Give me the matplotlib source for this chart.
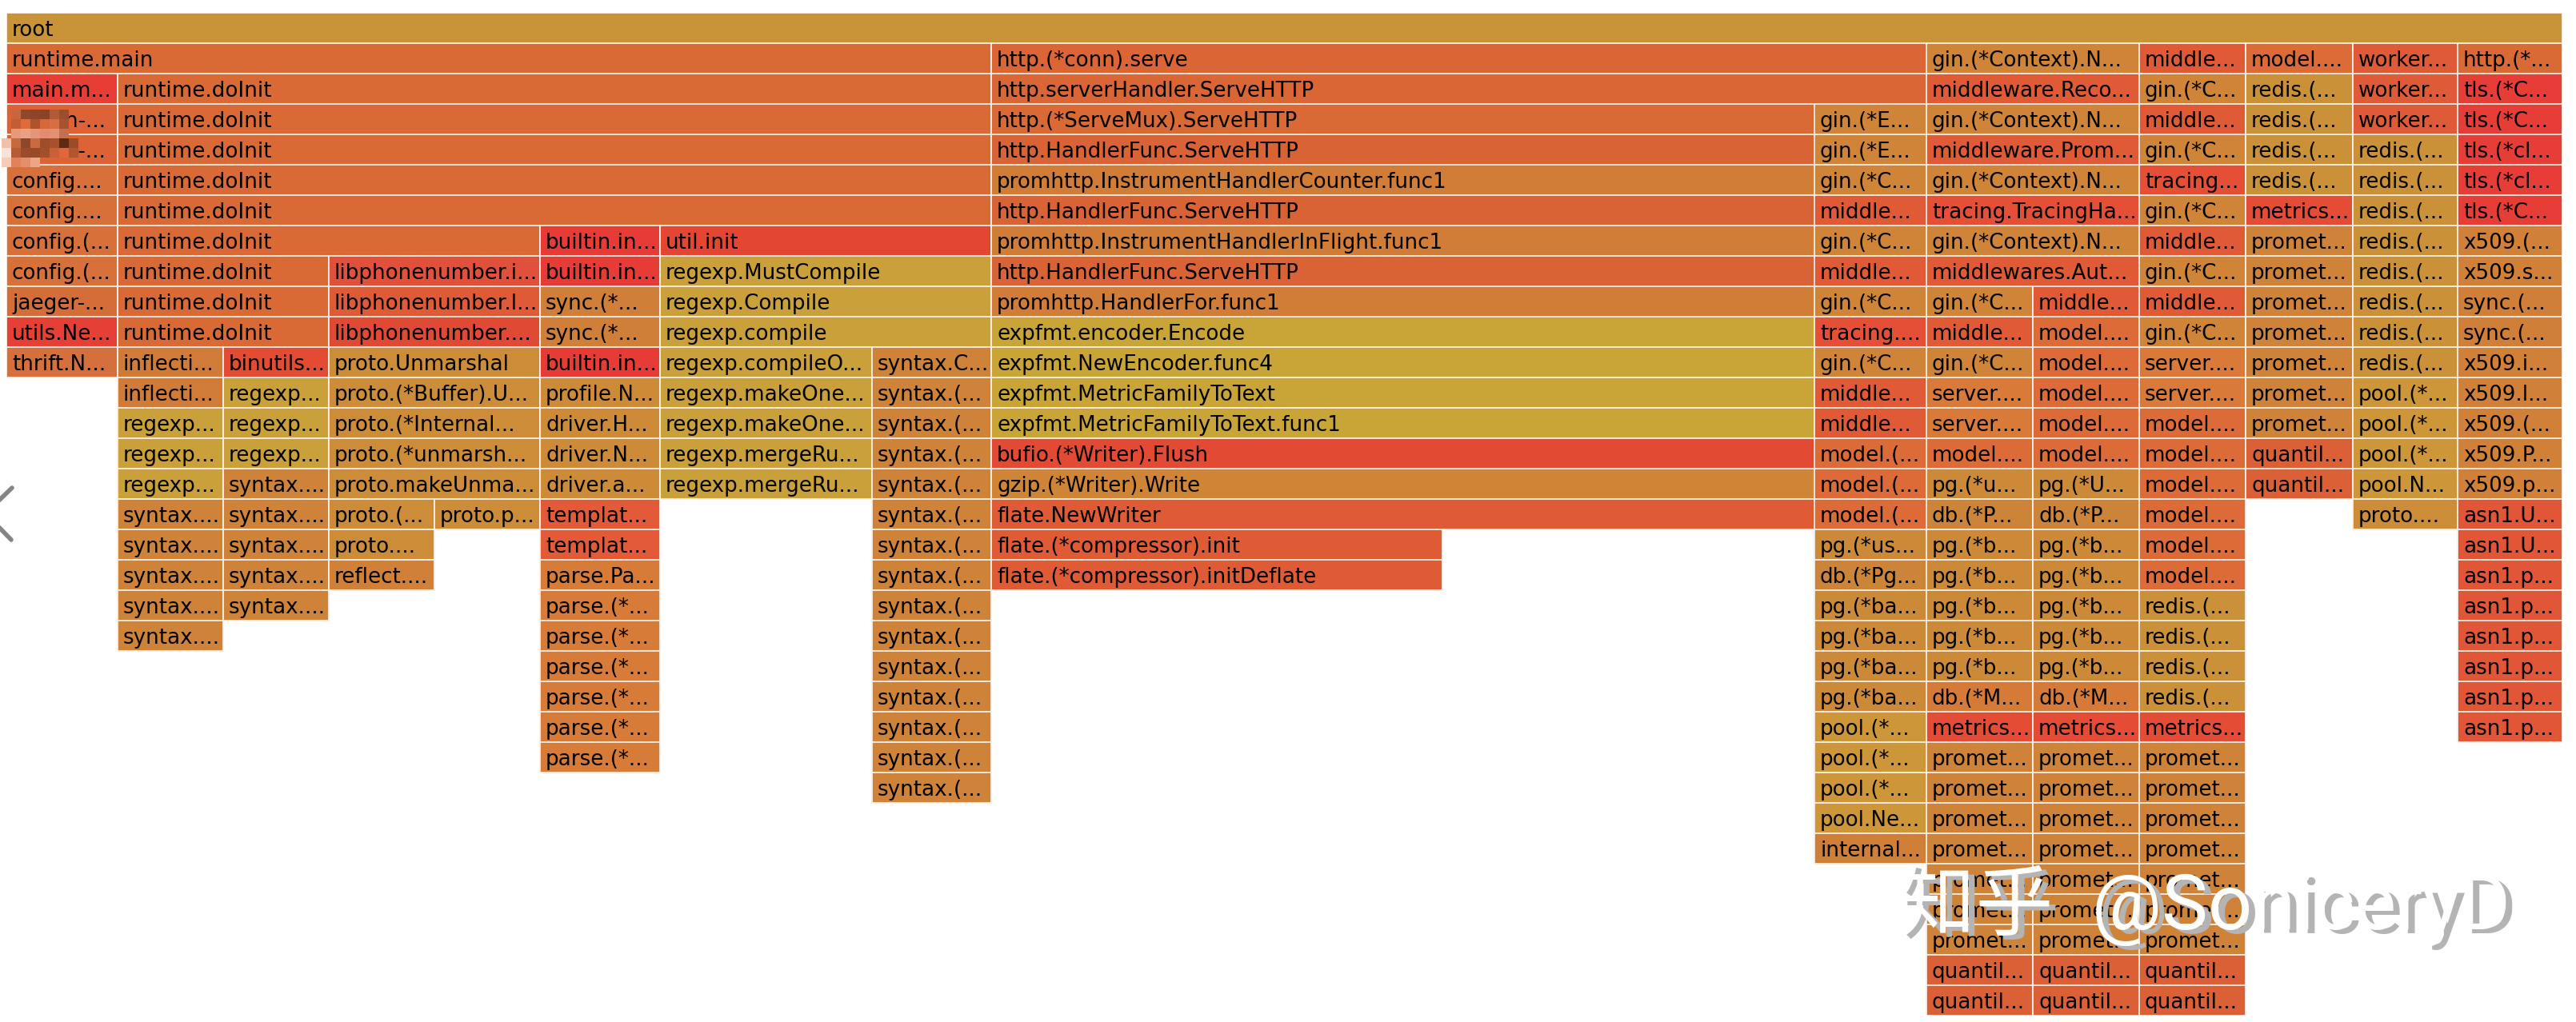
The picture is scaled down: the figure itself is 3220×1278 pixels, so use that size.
import matplotlib
matplotlib.use('Agg')
import matplotlib.pyplot as plt
from matplotlib.lines import Line2D
from matplotlib.patches import Rectangle

# each depth of the flame graph: frame names and their samples, '' is a gap
d0_names = ['root']
d0_samples = [3195]
d1_names = ['runtime.main', 'http.(*conn).serve', 'gin.(*Context).N...', 'middle...', 'model....', 'worker...', 'http.(*...']
d1_samples = [1231, 1169, 266, 133, 134, 131, 131]
d2_names = ['main.m...', 'runtime.doInit', 'http.serverHandler.ServeHTTP', 'middleware.Reco...', 'gin.(*C...', 'redis.(...', 'worker...', 'tls.(*C...']
d2_samples = [139, 1092, 1169, 266, 133, 134, 131, 131]
d3_names = ['        n-...', 'runtime.doInit', 'http.(*ServeMux).ServeHTTP', 'gin.(*E...', 'gin.(*Context).N...', 'middle...', 'redis.(...', 'worker...', 'tls.(*C...']
d3_samples = [139, 1092, 1029, 140, 266, 133, 134, 131, 131]
d4_names = ['          -...', 'runtime.doInit', 'http.HandlerFunc.ServeHTTP', 'gin.(*E...', 'middleware.Prom...', 'gin.(*C...', 'redis.(...', 'redis.(...', 'tls.(*cl...']
d4_samples = [139, 1092, 1029, 140, 266, 133, 134, 131, 131]
d5_names = ['config....', 'runtime.doInit', 'promhttp.InstrumentHandlerCounter.func1', 'gin.(*C...', 'gin.(*Context).N...', 'tracing...', 'redis.(...', 'redis.(...', 'tls.(*cl...']
d5_samples = [139, 1092, 1029, 140, 266, 133, 134, 131, 131]
d6_names = ['config....', 'runtime.doInit', 'http.HandlerFunc.ServeHTTP', 'middle...', 'tracing.TracingHa...', 'gin.(*C...', 'metrics...', 'redis.(...', 'tls.(*C...']
d6_samples = [139, 1092, 1029, 140, 266, 133, 134, 131, 131]
d7_names = ['config.(...', 'runtime.doInit', 'builtin.in...', 'util.init', 'promhttp.InstrumentHandlerInFlight.func1', 'gin.(*C...', 'gin.(*Context).N...', 'middle...', 'promet...', 'redis.(...', 'x509.(...']
d7_samples = [139, 528, 150, 414, 1029, 140, 266, 133, 134, 131, 131]
d8_names = ['config.(...', 'runtime.doInit', 'libphonenumber.i...', 'builtin.in...', 'regexp.MustCompile', 'http.HandlerFunc.ServeHTTP', 'middle...', 'middlewares.Aut...', 'gin.(*C...', 'promet...', 'redis.(...', 'x509.s...']
d8_samples = [139, 264, 264, 150, 414, 1029, 140, 266, 133, 134, 131, 131]
d9_names = ['jaeger-...', 'runtime.doInit', 'libphonenumber.l...', 'sync.(*...', 'regexp.Compile', 'promhttp.HandlerFor.func1', 'gin.(*C...', 'gin.(*C...', 'middle...', 'middle...', 'promet...', 'redis.(...', 'sync.(...']
d9_samples = [139, 264, 264, 150, 414, 1029, 140, 133, 133, 133, 134, 131, 131]
d10_names = ['utils.Ne...', 'runtime.doInit', 'libphonenumber....', 'sync.(*...', 'regexp.compile', 'expfmt.encoder.Encode', 'tracing....', 'middle...', 'model....', 'gin.(*C...', 'promet...', 'redis.(...', 'sync.(...']
d10_samples = [139, 264, 264, 150, 414, 1029, 140, 133, 133, 133, 134, 131, 131]
d11_names = ['thrift.N...', 'inflecti...', 'binutils...', 'proto.Unmarshal', 'builtin.in...', 'regexp.compileO...', 'syntax.C...', 'expfmt.NewEncoder.func4', 'gin.(*C...', 'gin.(*C...', 'model....', 'server....', 'promet...', 'redis.(...', 'x509.i...']
d11_samples = [139, 132, 132, 264, 150, 265, 149, 1029, 140, 133, 133, 133, 134, 131, 131]
d12_names = ['', 'inflecti...', 'regexp...', 'proto.(*Buffer).U...', 'profile.N...', 'regexp.makeOne...', 'syntax.(...', 'expfmt.MetricFamilyToText', 'middle...', 'server....', 'model....', 'server....', 'promet...', 'pool.(*...', 'x509.l...']
d12_samples = [139, 132, 132, 264, 150, 265, 149, 1029, 140, 133, 133, 133, 134, 131, 131]
d13_names = ['', 'regexp...', 'regexp...', 'proto.(*Internal...', 'driver.H...', 'regexp.makeOne...', 'syntax.(...', 'expfmt.MetricFamilyToText.func1', 'middle...', 'server....', 'model....', 'model....', 'promet...', 'pool.(*...', 'x509.(...']
d13_samples = [139, 132, 132, 264, 150, 265, 149, 1029, 140, 133, 133, 133, 134, 131, 131]
d14_names = ['', 'regexp...', 'regexp...', 'proto.(*unmarsh...', 'driver.N...', 'regexp.mergeRu...', 'syntax.(...', 'bufio.(*Writer).Flush', 'model.(...', 'model....', 'model....', 'model....', 'quantil...', 'pool.(*...', 'x509.P...']
d14_samples = [139, 132, 132, 264, 150, 265, 149, 1029, 140, 133, 133, 133, 134, 131, 131]
d15_names = ['', 'regexp...', 'syntax....', 'proto.makeUnma...', 'driver.a...', 'regexp.mergeRu...', 'syntax.(...', 'gzip.(*Writer).Write', 'model.(...', 'pg.(*u...', 'pg.(*U...', 'model....', 'quantil...', 'pool.N...', 'x509.p...']
d15_samples = [139, 132, 132, 264, 150, 265, 149, 1029, 140, 133, 133, 133, 134, 131, 131]
d16_names = ['', 'syntax....', 'syntax....', 'proto.(...', 'proto.p...', 'templat...', '', 'syntax.(...', 'flate.NewWriter', 'model.(...', 'db.(*P...', 'db.(*P...', 'model....', '', 'proto....', 'asn1.U...']
d16_samples = [139, 132, 132, 132, 132, 150, 265, 149, 1029, 140, 133, 133, 133, 134, 131, 131]
d17_names = ['', 'syntax....', 'syntax....', 'proto....', '', 'templat...', '', 'syntax.(...', 'flate.(*compressor).init', '', 'pg.(*us...', 'pg.(*b...', 'pg.(*b...', 'model....', '', 'asn1.U...']
d17_samples = [139, 132, 132, 132, 132, 150, 265, 149, 564, 465, 140, 133, 133, 133, 265, 131]
d18_names = ['', 'syntax....', 'syntax....', 'reflect....', '', 'parse.Pa...', '', 'syntax.(...', 'flate.(*compressor).initDeflate', '', 'db.(*Pg...', 'pg.(*b...', 'pg.(*b...', 'model....', '', 'asn1.p...']
d18_samples = [139, 132, 132, 132, 132, 150, 265, 149, 564, 465, 140, 133, 133, 133, 265, 131]
d19_names = ['', 'syntax....', 'syntax....', '', 'parse.(*...', '', 'syntax.(...', '', 'pg.(*ba...', 'pg.(*b...', 'pg.(*b...', 'redis.(...', '', 'asn1.p...']
d19_samples = [139, 132, 132, 264, 150, 265, 149, 1029, 140, 133, 133, 133, 265, 131]
d20_names = ['', 'syntax....', '', 'parse.(*...', '', 'syntax.(...', '', 'pg.(*ba...', 'pg.(*b...', 'pg.(*b...', 'redis.(...', '', 'asn1.p...']
d20_samples = [139, 132, 396, 150, 265, 149, 1029, 140, 133, 133, 133, 265, 131]
d21_names = ['', 'parse.(*...', '', 'syntax.(...', '', 'pg.(*ba...', 'pg.(*b...', 'pg.(*b...', 'redis.(...', '', 'asn1.p...']
d21_samples = [667, 150, 265, 149, 1029, 140, 133, 133, 133, 265, 131]
d22_names = ['', 'parse.(*...', '', 'syntax.(...', '', 'pg.(*ba...', 'db.(*M...', 'db.(*M...', 'redis.(...', '', 'asn1.p...']
d22_samples = [667, 150, 265, 149, 1029, 140, 133, 133, 133, 265, 131]
d23_names = ['', 'parse.(*...', '', 'syntax.(...', '', 'pool.(*...', 'metrics...', 'metrics...', 'metrics...', '', 'asn1.p...']
d23_samples = [667, 150, 265, 149, 1029, 140, 133, 133, 133, 265, 131]
d24_names = ['', 'parse.(*...', '', 'syntax.(...', '', 'pool.(*...', 'promet...', 'promet...', 'promet...']
d24_samples = [667, 150, 265, 149, 1029, 140, 133, 133, 133]
d25_names = ['', 'syntax.(...', '', 'pool.(*...', 'promet...', 'promet...', 'promet...']
d25_samples = [1082, 149, 1029, 140, 133, 133, 133]
d26_names = ['', 'pool.Ne...', 'promet...', 'promet...', 'promet...']
d26_samples = [2260, 140, 133, 133, 133]
d27_names = ['', 'internal...', 'promet...', 'promet...', 'promet...']
d27_samples = [2260, 140, 133, 133, 133]
d28_names = ['', 'promet...', 'promet...', 'promet...']
d28_samples = [2400, 133, 133, 133]
d29_names = d28_names
d29_samples = d28_samples
d30_names = d28_names
d30_samples = d28_samples
d31_names = ['', 'quantil...', 'quantil...', 'quantil...']
d31_samples = d28_samples
d32_names = d31_names
d32_samples = d28_samples

all_names = [d0_names, d1_names, d2_names, d3_names, d4_names, d5_names, d6_names, d7_names, d8_names, d9_names,
             d10_names, d11_names, d12_names, d13_names, d14_names, d15_names, d16_names, d17_names, d18_names,
             d19_names, d20_names, d21_names, d22_names, d23_names, d24_names, d25_names, d26_names, d27_names,
             d28_names, d29_names, d30_names, d31_names, d32_names]
all_samples = [d0_samples, d1_samples, d2_samples, d3_samples, d4_samples, d5_samples, d6_samples, d7_samples,
               d8_samples, d9_samples, d10_samples, d11_samples, d12_samples, d13_samples, d14_samples, d15_samples,
               d16_samples, d17_samples, d18_samples, d19_samples, d20_samples, d21_samples, d22_samples,
               d23_samples, d24_samples, d25_samples, d26_samples, d27_samples, d28_samples, d29_samples,
               d30_samples, d31_samples, d32_samples]

# frame colour by name prefix, longest match wins
palette = {
    'root': '#c99338', 'runtime': '#d96935', 'http.(*conn': '#db6535', 'http.server': '#da6635',
    'http.(*': '#d96a36', 'http.Handler': '#da6335', 'promhttp': '#d17d37', 'expfmt': '#c9a437',
    'bufio': '#e24a33', 'gzip': '#cf8436', 'flate': '#de5b35', 'main.m': '#e63e34', 'utils': '#e63f35',
    'n-': '#dd6236', '-': '#dd6236', 'config': '#d8703a', 'jaeger': '#d56d39', 'thrift': '#d56f3b',
    'inflecti': '#d07c38', 'binutils': '#e34c33', 'libphonenumber.i': '#e1503a', 'libphonenumber.l': '#df5a37',
    'libphonenumber': '#e04a35', 'builtin': '#e63c35', 'util.init': '#e44634', 'regexp': '#c9a039',
    'sync': '#d07f38', 'syntax': '#cf8338', 'proto': '#cd8c38', 'profile': '#cd8b38', 'driver': '#cd8b38',
    'templat': '#e25a37', 'parse': '#d67b38', 'reflect': '#d18038', 'gin': '#cf8438', 'middle': '#e05a36',
    'tracing': '#e44f35', 'model': '#dc6b37', 'server': '#d97a38', 'pg': '#cc8a38', 'db': '#cc8538',
    'db.(*M': '#d67a38', 'pool': '#cc9639', 'internal': '#d07f38', 'metrics': '#e44c35', 'promet': '#ce8338',
    'quantil': '#dc6035', 'redis': '#cb9139', 'worker': '#df5a36', 'tls': '#e63e36', 'x509': '#d18038',
    'asn1': '#e15636',
}


def frame_color(name):
    matches = [p for p in palette if name.strip().startswith(p)]
    return palette[max(matches, key=len)]


W, H = 3220, 1278
fig = plt.figure(figsize=(W / 100, H / 100), dpi=100)
plt.rcParams['font.family'] = ['DejaVu Sans']

depth = len(all_names)
total = sum(d0_samples)
ax = fig.add_axes([8 / W, 1 - (16 + 38 * depth) / H, total / W, 38 * depth / H])
ax.set_xlim(0, total)
ax.set_ylim(depth, 0)
ax.axis('off')

for d in range(depth):
    left = 0
    for name, value in zip(all_names[d], all_samples[d]):
        if name:
            ax.barh(d + 0.5, value, left=left, height=1.0, color=frame_color(name),
                    edgecolor='#fbeee4', linewidth=1.3)
            ax.annotate(name, (left, d + 0.5), xytext=(7, 0), textcoords='offset pixels',
                        va='center_baseline', ha='left', fontsize=18.8, color='black')
        left += value

# blurred patch over the first two hidden names, '' leaves the frame showing
mosaic = [['', '#c8663f', '#93472a', '#8e4428', '#8b4327', '#b05a36', '#9c4d2c', ''],
          ['', '#c25d36', '#e06a3c', '#ad522d', '#d66838', '#d96c42', '#a85330', ''],
          ['', '#e79a7a', '#e8a283', '#e3967a', '#e28d6f', '#e29273', '#c27050', ''],
          ['#f0c0aa', '#c7683f', '#8f4629', '#c96a40', '#9e4d2a', '#a84f2c', '#5e2a14', '#9c4b28'],
          ['#f8e2d8', '#b75b34', '#9c4c2a', '#98492a', '#a44f2c', '#c96138', '#e0673a', '#b0562f'],
          ['#f5ccb8', '#e2825a', '#e48e6a', '#eea585', '', '', '', '']]
cell = 12
for r, row in enumerate(mosaic):
    for c, col in enumerate(row):
        if col:
            fig.add_artist(Rectangle(((2 + c * cell) / W, 1 - (137 + (r + 1) * cell) / H), cell / W, cell / H,
                                     color=col, lw=0, zorder=5))

# browser back arrow cut by the left edge
fig.add_artist(Line2D([15 / W, -18 / W, 14 / W], [1 - 610 / H, 1 - 642 / H, 1 - 675 / H],
                      color='#858585', lw=4, zorder=5, solid_capstyle='round'))

# watermark, grey copy under the white one
for dx, dy, col in [(8, 5, '#b4b4b4'), (0, 0, 'white')]:
    fig.text((2372 + dx) / W, 1 - (1162 + dy) / H, '知乎  @SoniceryD', color=col, fontsize=70, zorder=6,
             family=['Roboto', 'Noto Sans CJK SC'], va='baseline', ha='left')

fig.savefig('out.png', dpi=100)
